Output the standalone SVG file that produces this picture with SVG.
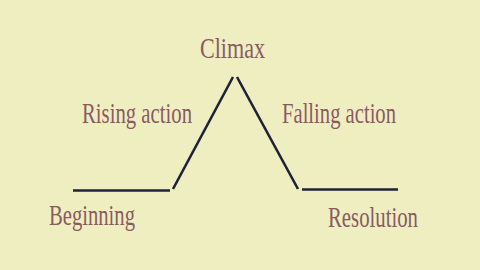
<svg xmlns="http://www.w3.org/2000/svg" width="480" height="270" viewBox="0 0 480 270">
<style>
.lbl{font-family:"Liberation Serif","Times New Roman",serif;font-size:29px;fill:#8a5a62}
.ln{stroke:#1e2238;stroke-width:2.6;fill:none;stroke-linecap:butt}
</style>
<rect width="480" height="270" fill="#efeec1"/>
<g id="connectors">
<line class="ln" x1="73" y1="190.5" x2="170" y2="190.5"/>
<line class="ln" x1="173" y1="189" x2="233" y2="77"/>
<line class="ln" x1="237" y1="77" x2="298" y2="189"/>
<line class="ln" x1="302" y1="189.5" x2="398" y2="189.5"/>
</g>
<g id="climax"><text class="lbl" x="200" y="58" textLength="65" lengthAdjust="spacingAndGlyphs">Climax</text></g>
<g id="rising"><text class="lbl" x="82" y="123" textLength="110" lengthAdjust="spacingAndGlyphs">Rising action</text></g>
<g id="falling"><text class="lbl" x="282" y="123" textLength="114" lengthAdjust="spacingAndGlyphs">Falling action</text></g>
<g id="beginning"><text class="lbl" x="49" y="225" textLength="86" lengthAdjust="spacingAndGlyphs">Beginning</text></g>
<g id="resolution"><text class="lbl" x="328" y="227" textLength="90" lengthAdjust="spacingAndGlyphs">Resolution</text></g>
</svg>
